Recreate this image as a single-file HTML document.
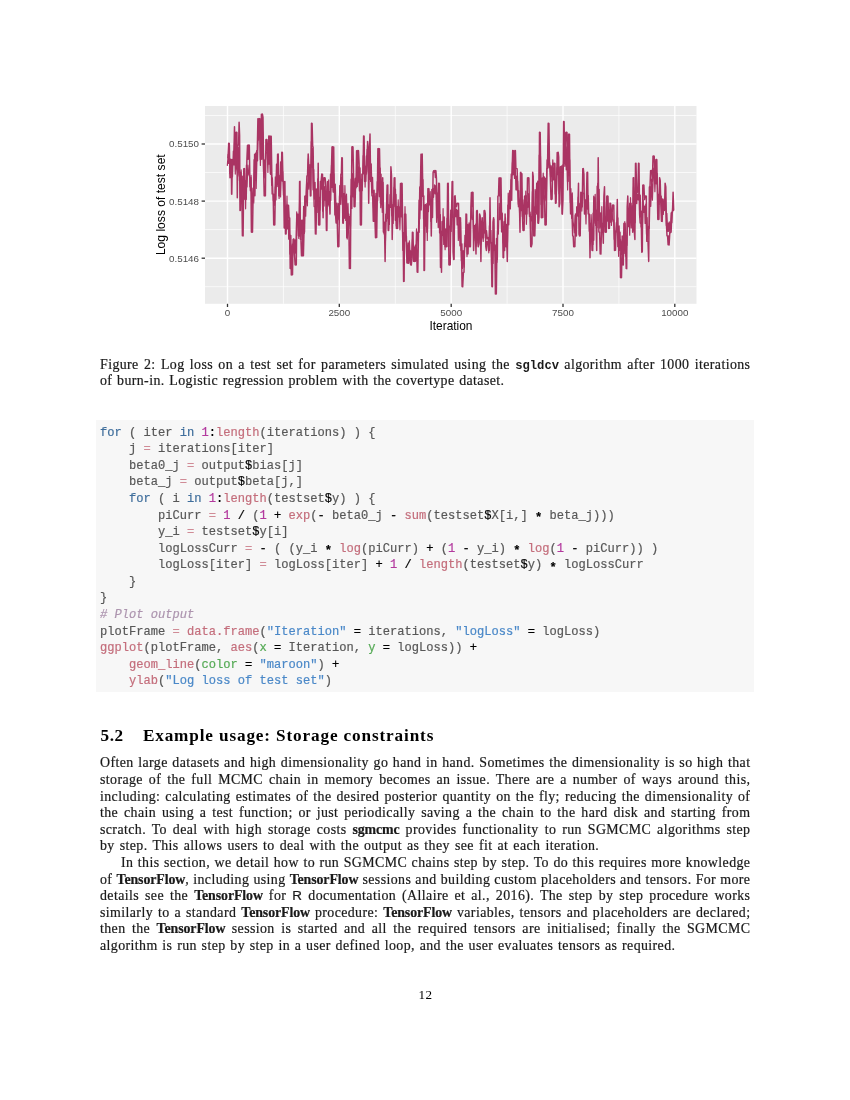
<!DOCTYPE html>
<html><head><meta charset="utf-8"><style>
html,body{margin:0;padding:0;background:#fff}
#page{position:relative;width:850px;height:1100px;overflow:hidden;background:#fff;filter:blur(0.35px)}

.ln{position:absolute;white-space:pre;font-family:'Liberation Serif',serif;font-size:13.9px;line-height:16.6px;letter-spacing:0.4px;color:#1a1a1a;-webkit-text-stroke:0.2px #1a1a1a}
.ln b{font-weight:bold;letter-spacing:-0.1px}
.ln .tt{font-family:'Liberation Mono',monospace;font-weight:bold;font-size:12.2px;letter-spacing:0px;line-height:1;-webkit-text-stroke:0}
.ln .sf{font-family:'Liberation Sans',sans-serif;font-size:13.4px;line-height:1}

.codebox{position:absolute;left:96px;top:420.4px;width:658px;height:271.2px;background:#F7F7F7}
pre.code{position:absolute;left:100px;top:424.69px;margin:0;font-family:'Liberation Mono',monospace;font-size:12.08px;line-height:16.58px;color:#585858;-webkit-text-stroke:0.2px}
.hd{position:absolute;white-space:pre;font-family:'Liberation Serif',serif;font-weight:bold;font-size:17.2px;line-height:20px}
.pn{position:absolute;white-space:pre;font-family:'Liberation Serif',serif;font-size:13.9px;line-height:16.6px}
</style></head><body><div id="page">
<svg width="850" height="340" style="position:absolute;left:0;top:0">
<rect x="205" y="106" width="491.5" height="197.8" fill="#EBEBEB"/>
<line x1="205" x2="696.5" y1="115.5" y2="115.5" stroke="#fff" stroke-width="0.7"/>
<line x1="205" x2="696.5" y1="172.5" y2="172.5" stroke="#fff" stroke-width="0.7"/>
<line x1="205" x2="696.5" y1="229.6" y2="229.6" stroke="#fff" stroke-width="0.7"/>
<line x1="205" x2="696.5" y1="286.7" y2="286.7" stroke="#fff" stroke-width="0.7"/>
<line x1="283.4" x2="283.4" y1="106" y2="303.8" stroke="#fff" stroke-width="0.7"/>
<line x1="395.3" x2="395.3" y1="106" y2="303.8" stroke="#fff" stroke-width="0.7"/>
<line x1="507.1" x2="507.1" y1="106" y2="303.8" stroke="#fff" stroke-width="0.7"/>
<line x1="618.9" x2="618.9" y1="106" y2="303.8" stroke="#fff" stroke-width="0.7"/>
<line x1="205" x2="696.5" y1="144.0" y2="144.0" stroke="#fff" stroke-width="1.4"/>
<line x1="205" x2="696.5" y1="201.1" y2="201.1" stroke="#fff" stroke-width="1.4"/>
<line x1="205" x2="696.5" y1="258.2" y2="258.2" stroke="#fff" stroke-width="1.4"/>
<line x1="227.5" x2="227.5" y1="106" y2="303.8" stroke="#fff" stroke-width="1.4"/>
<line x1="339.3" x2="339.3" y1="106" y2="303.8" stroke="#fff" stroke-width="1.4"/>
<line x1="451.2" x2="451.2" y1="106" y2="303.8" stroke="#fff" stroke-width="1.4"/>
<line x1="563.0" x2="563.0" y1="106" y2="303.8" stroke="#fff" stroke-width="1.4"/>
<line x1="674.8" x2="674.8" y1="106" y2="303.8" stroke="#fff" stroke-width="1.4"/>
<polyline points="227.3,165.9 228.2,154.4 228.7,163.5 229.4,158.1 229.9,173.6 230.6,159.0 231.3,163.6 231.8,165.9 232.5,176.9 233.3,151.0 233.8,165.0 234.5,142.4 235.3,174.1 235.9,142.5 236.6,168.8 237.4,171.6 237.9,175.9 238.7,147.3 239.4,180.6 239.9,182.3 240.6,203.5 241.1,169.8 241.7,188.3 242.3,176.0 243.1,210.9 243.8,188.5 244.4,198.2 245.1,180.5 245.6,208.8 246.4,165.1 247.0,187.0 247.9,165.0 248.8,174.6 249.7,177.1 250.3,190.8 251.1,175.4 252.0,213.1 252.9,188.1 253.8,202.9 254.5,154.1 255.1,180.5 255.6,153.0 256.2,188.4 257.1,152.4 257.6,160.8 258.2,133.6 259.0,135.6 259.7,128.8 260.4,165.4 261.2,133.1 262.1,151.2 262.8,132.1 263.6,173.9 264.2,159.9 264.8,177.9 265.6,151.6 266.4,152.8 267.2,152.8 267.9,172.4 268.5,149.1 269.0,164.2 269.7,155.5 270.4,174.1 271.1,155.5 271.6,185.3 272.4,177.9 273.3,200.7 274.1,194.4 274.7,205.4 275.3,176.9 276.0,199.9 276.7,172.6 277.4,184.5 278.3,168.3 279.1,198.5 279.8,175.4 280.6,196.9 281.2,170.5 281.8,181.0 282.7,171.6 283.4,195.0 284.2,185.2 284.9,213.0 285.5,208.2 286.1,230.2 287.0,196.1 287.5,228.9 288.0,206.1 288.7,239.2 289.3,220.4 289.9,254.1 290.7,245.4 291.5,259.6 292.1,244.0 293.0,247.1 293.8,238.7 294.5,255.4 295.1,239.8 295.8,253.1 296.7,211.9 297.3,223.1 298.0,217.1 298.8,238.4 299.6,201.8 300.4,231.5 301.2,220.0 301.8,239.5 302.3,220.0 302.9,238.3 303.6,206.4 304.3,233.5 304.9,196.3 305.7,216.2 306.6,182.6 307.4,205.8 308.3,158.9 309.0,189.2 309.8,164.6 310.5,188.4 311.3,141.6 311.8,167.1 312.4,148.4 313.0,189.8 313.8,169.6 314.4,199.1 315.1,182.3 315.7,209.7 316.4,188.8 317.2,212.4 317.8,178.8 318.7,212.7 319.5,197.3 320.0,210.0 320.6,181.5 321.2,189.2 321.8,176.8 322.6,211.2 323.4,200.6 324.0,206.1 324.5,186.5 325.2,200.1 325.7,190.9 326.4,211.1 327.2,205.5 327.9,204.4 328.7,179.9 329.2,206.4 330.1,191.4 330.8,200.6 331.5,165.2 332.1,187.4 332.6,163.6 333.3,190.3 333.9,173.8 334.8,215.0 335.3,184.1 336.2,214.0 337.0,203.1 337.6,224.8 338.4,203.7 339.1,219.8 339.7,185.5 340.6,204.3 341.5,177.3 342.3,204.8 342.8,185.3 343.4,216.8 343.9,193.6 344.4,218.3 344.9,185.5 345.7,220.4 346.5,194.1 347.2,239.1 348.0,203.5 348.8,228.5 349.6,216.3 350.5,226.6 351.1,179.2 351.9,208.5 352.4,173.6 353.3,197.1 353.8,178.6 354.7,193.6 355.4,178.1 356.2,187.8 356.9,165.8 357.8,182.6 358.6,166.9 359.4,191.1 360.1,167.9 361.0,205.4 361.7,179.3 362.3,190.6 363.2,155.5 363.7,168.1 364.4,155.5 365.1,187.1 365.8,166.1 366.3,174.1 367.2,149.3 368.0,171.1 368.7,175.1 369.5,179.4 370.0,153.3 370.6,181.4 371.3,163.9 372.0,192.8 372.6,177.3 373.5,208.1 374.2,190.2 375.0,218.1 375.9,193.3 376.4,218.1 377.2,181.5 377.7,201.0 378.5,168.2 379.4,196.7 380.2,168.2 380.7,207.7 381.4,188.5 382.3,212.4 383.1,182.4 384.0,234.0 384.7,222.2 385.4,243.0 386.0,220.3 386.6,221.2 387.1,194.4 387.8,218.5 388.6,204.7 389.4,224.5 390.0,194.5 390.6,207.5 391.2,182.8 391.8,215.8 392.6,204.9 393.2,223.5 394.1,187.4 395.0,206.7 395.5,189.0 396.3,225.9 397.0,206.7 397.7,217.4 398.2,199.9 398.8,216.9 399.4,214.4 399.9,229.8 400.6,204.8 401.3,216.8 402.0,208.3 402.8,250.3 403.4,235.9 404.2,259.8 405.0,206.7 405.8,241.1 406.5,236.0 407.3,262.6 408.1,242.9 408.9,253.8 409.4,240.8 410.2,256.9 411.0,251.2 411.6,257.8 412.4,239.5 412.9,253.7 413.6,249.3 414.5,261.4 415.3,245.2 415.9,250.0 416.5,228.9 417.1,246.3 417.7,232.2 418.3,240.3 419.0,200.0 419.9,218.8 420.7,187.2 421.3,209.9 421.9,180.1 422.4,196.4 423.0,179.7 423.5,218.9 424.1,219.7 424.6,240.7 425.4,204.3 426.1,226.2 426.8,203.5 427.3,240.5 427.9,195.1 428.5,211.6 429.0,194.5 429.6,204.9 430.2,191.6 430.9,221.5 431.6,202.7 432.1,209.0 432.9,188.4 433.6,197.3 434.4,184.9 435.1,193.8 435.8,185.4 436.6,222.3 437.3,192.9 438.2,227.6 439.0,193.8 439.5,233.0 440.4,214.7 441.0,251.5 441.7,236.1 442.6,235.3 443.1,208.6 443.7,244.4 444.3,216.9 445.1,249.7 445.7,228.8 446.4,242.5 447.1,218.1 447.6,225.5 448.1,199.8 448.8,226.9 449.6,226.1 450.1,246.6 450.7,210.1 451.2,231.5 452.1,200.9 452.6,211.5 453.5,222.1 454.1,246.6 454.9,198.6 455.7,216.7 456.5,209.2 457.1,225.0 457.7,210.2 458.3,240.4 459.2,224.5 459.9,245.8 460.5,222.0 461.3,260.8 462.0,243.8 462.5,268.4 463.3,250.7 464.1,267.1 464.9,235.3 465.8,246.6 466.5,230.1 467.0,256.6 467.6,224.3 468.4,238.4 469.0,222.9 469.8,240.5 470.4,220.5 471.1,218.9 471.8,205.9 472.5,219.5 473.1,217.8 473.8,240.5 474.4,225.4 475.0,234.7 475.7,224.1 476.2,246.2 476.9,215.4 477.6,237.0 478.2,233.5 478.8,242.8 479.6,221.7 480.5,245.0 481.0,243.7 481.8,237.5 482.6,226.1 483.2,241.4 483.7,229.8 484.6,233.2 485.2,213.9 486.0,238.9 486.6,230.7 487.4,238.9 488.2,237.5 488.8,252.8 489.4,225.7 490.2,230.3 490.9,230.3 491.6,265.8 492.2,242.4 493.1,263.4 493.9,219.1 494.4,250.7 495.0,244.9 495.8,268.5 496.4,238.4 497.0,262.3 497.5,231.2 498.4,234.1 499.2,203.3 499.9,219.7 500.8,203.0 501.5,231.9 502.3,213.2 503.1,243.0 503.9,226.7 504.7,236.2 505.5,217.7 506.4,247.0 506.9,224.3 507.5,242.2 508.2,193.2 508.8,224.8 509.6,190.5 510.4,209.0 511.0,179.5 511.8,200.4 512.4,162.5 513.1,174.8 513.7,162.8 514.5,178.5 515.2,162.9 515.9,189.8 516.6,176.2 517.1,190.6 517.7,181.1 518.3,204.2 518.9,190.7 519.6,213.7 520.2,202.3 521.0,191.3 521.5,188.2 522.3,216.5 523.0,199.9 523.8,219.1 524.6,201.1 525.2,209.3 525.8,191.1 526.4,224.3 527.1,202.2 527.9,207.3 528.6,193.7 529.4,216.5 530.1,212.1 530.6,228.8 531.1,216.9 531.7,220.8 532.4,191.5 533.0,207.5 533.6,206.4 534.5,230.4 535.1,189.5 535.8,213.1 536.6,183.0 537.2,198.0 537.7,181.0 538.6,213.1 539.2,155.1 539.8,178.5 540.5,156.3 541.1,204.5 541.7,186.0 542.3,204.6 543.2,173.0 543.9,188.0 544.4,176.9 544.9,200.9 545.6,178.2 546.3,200.1 547.0,159.8 547.6,167.4 548.1,145.6 549.0,167.7 549.7,162.7 550.5,176.7 551.2,165.8 551.9,181.3 552.8,159.8 553.6,180.0 554.5,165.4 555.1,194.0 555.8,180.1 556.5,191.2 557.1,167.6 557.6,174.0 558.5,169.7 559.1,193.7 559.9,167.7 560.6,180.9 561.4,165.9 562.0,193.7 562.7,165.4 563.5,164.0 564.1,141.8 564.8,166.3 565.4,141.8 566.2,169.8 566.9,146.9 567.6,190.0 568.3,156.6 569.2,175.6 569.7,159.8 570.3,202.4 570.9,188.6 571.6,218.3 572.3,192.9 573.1,221.2 573.7,226.4 574.3,232.8 575.2,215.4 576.0,225.3 576.8,207.3 577.7,216.2 578.2,197.2 578.9,216.9 579.8,203.4 580.3,212.2 581.1,192.5 581.8,211.1 582.5,192.1 583.4,193.3 584.0,193.9 584.6,204.1 585.4,205.5 586.0,223.9 586.8,192.2 587.6,209.1 588.4,195.7 589.2,231.2 589.8,225.4 590.4,238.9 591.1,214.6 591.7,227.2 592.2,230.1 593.0,244.5 593.7,196.2 594.4,210.6 595.2,194.4 595.7,225.5 596.5,210.2 597.1,227.7 597.7,183.4 598.5,198.2 599.2,189.4 599.8,228.1 600.6,212.9 601.3,232.9 601.8,206.5 602.4,230.2 603.3,223.0 603.9,224.1 604.5,201.6 605.3,222.9 605.8,216.8 606.4,224.6 607.0,202.1 607.7,221.2 608.3,210.1 608.9,222.3 609.5,210.1 610.3,222.1 610.8,207.9 611.4,225.5 612.1,213.7 612.9,220.0 613.7,220.2 614.2,239.3 615.0,231.1 615.5,235.6 616.3,222.5 617.1,225.1 617.9,217.8 618.6,256.3 619.2,225.9 619.9,250.5 620.7,239.7 621.6,254.6 622.1,241.0 622.9,259.3 623.6,235.9 624.1,253.5 624.8,221.5 625.5,256.2 626.2,235.4 627.0,245.4 627.8,211.9 628.5,226.6 629.2,220.0 629.7,235.2 630.5,197.7 631.3,228.0 632.2,205.9 632.8,222.7 633.5,186.7 634.1,215.4 634.6,199.4 635.2,222.7 636.1,180.0 636.8,203.6 637.4,193.9 638.3,200.0 639.1,187.9 639.7,217.0 640.3,195.0 641.1,227.0 641.8,211.1 642.5,224.2 643.2,199.8 643.9,212.4 644.6,206.0 645.1,223.5 645.8,204.1 646.5,234.6 647.1,217.6 647.8,241.4 648.6,226.3 649.3,228.5 650.2,186.7 650.8,206.3 651.6,179.1 652.4,200.2 653.2,179.1 653.7,168.0 654.3,173.8 654.9,191.7 655.7,170.6 656.4,183.9 657.2,173.5 658.0,207.0 658.5,194.4 659.1,204.4 659.9,182.8 660.5,201.6 661.3,196.2 661.9,213.2 662.6,198.8 663.3,214.5 664.0,199.0 664.8,209.4 665.5,196.8 666.3,225.5 666.9,213.4 667.6,231.4 668.2,223.2 668.8,231.4 669.3,221.9 670.2,232.9 671.1,212.8 671.9,222.7 672.8,203.9 673.3,210.1" fill="none" stroke="#AA3463" stroke-width="1.2" stroke-linejoin="round"/>
<polyline points="227.3,157.7 228.0,157.5 228.7,143.2 229.3,143.4 230.0,177.7 230.7,159.7 231.3,159.5 231.6,193.9 231.8,194.1 232.4,159.7 233.1,159.5 233.8,159.3 234.5,126.8 235.0,164.8 235.5,165.0 235.9,132.5 236.4,132.3 236.9,132.5 237.3,197.7 237.8,145.2 238.2,145.0 238.6,144.8 239.1,122.3 239.6,135.6 240.0,210.5 240.4,210.3 240.9,172.3 241.4,186.6 241.8,186.8 242.4,235.7 243.1,235.9 243.8,168.8 244.5,168.6 245.0,199.3 245.5,199.5 246.2,199.3 246.9,159.5 247.5,145.2 248.1,159.3 248.7,145.0 249.3,145.2 250.0,186.8 250.4,186.6 250.9,177.7 251.4,232.1 252.0,232.3 252.5,232.1 253.1,196.1 253.6,195.9 254.2,159.7 254.9,195.7 255.5,159.5 256.1,159.3 256.7,150.7 257.3,150.5 257.9,118.8 258.5,140.1 259.1,118.6 259.8,118.8 260.4,159.5 260.9,159.0 261.4,114.3 261.9,159.3 262.4,114.1 263.0,117.5 263.6,168.6 264.2,195.7 264.9,195.9 265.4,195.7 265.9,139.7 266.4,139.5 267.0,139.7 267.6,159.5 268.2,159.3 268.8,136.1 269.4,159.3 270.0,135.9 270.6,173.9 271.2,136.3 271.8,174.1 272.2,193.9 272.7,194.1 273.2,194.3 273.7,224.8 274.2,225.0 274.8,224.8 275.4,187.0 276.0,186.8 276.6,164.3 277.1,186.6 277.6,154.3 278.2,154.1 278.9,195.7 279.6,195.9 280.2,195.7 280.7,162.1 281.2,179.5 281.8,152.3 282.4,152.5 283.0,181.2 283.6,181.4 284.2,227.9 284.9,181.6 285.5,234.1 286.1,233.9 286.7,205.2 287.3,205.0 287.9,217.5 288.5,205.2 289.1,217.7 289.7,217.9 290.2,268.5 290.8,235.5 291.3,275.0 291.9,247.3 292.5,274.8 293.1,239.5 293.8,239.7 294.5,254.1 295.1,264.8 295.8,265.0 296.3,264.8 296.8,214.3 297.3,214.1 297.9,214.3 298.5,235.7 299.1,235.9 299.6,181.6 300.0,181.4 300.4,239.3 300.9,239.5 301.5,255.7 302.2,255.9 302.8,232.5 303.4,255.7 304.0,232.3 304.5,232.1 305.0,196.1 305.5,195.9 306.2,195.7 306.9,175.9 307.5,175.7 308.2,154.1 308.9,168.4 309.5,168.6 309.9,168.8 310.4,195.9 310.9,195.7 311.5,123.2 312.1,123.4 312.7,146.8 313.1,147.0 313.6,183.2 314.2,206.6 314.9,206.8 315.4,233.9 316.0,234.1 316.6,201.6 317.3,201.4 317.8,201.2 318.2,163.2 318.6,224.8 319.1,225.0 319.8,224.8 320.4,181.4 321.1,181.2 321.8,174.1 322.5,174.3 323.1,217.7 323.8,177.9 324.5,177.7 325.1,177.9 325.8,186.8 326.4,230.3 326.9,230.5 327.5,181.6 328.2,181.4 328.6,204.8 329.1,205.0 329.6,205.2 330.0,214.1 330.6,174.3 331.3,174.1 332.0,147.0 332.7,146.8 333.2,192.1 333.7,147.0 334.2,192.3 334.9,192.5 335.5,214.1 336.1,223.0 336.7,214.3 337.3,223.2 337.8,246.6 338.2,246.8 338.9,246.6 339.6,195.9 340.2,195.7 340.9,174.1 341.4,173.9 341.8,157.7 342.3,157.9 342.8,223.0 343.3,223.2 343.9,205.2 344.5,205.0 345.1,204.8 345.8,195.9 346.3,196.1 346.8,237.5 347.3,237.7 348.0,214.3 348.7,214.1 349.4,268.4 350.0,268.6 350.4,268.4 350.9,195.9 351.4,195.7 351.9,147.0 352.4,146.8 353.0,147.0 353.6,177.7 354.1,206.6 354.5,206.8 355.0,206.6 355.5,187.0 356.0,186.8 356.6,150.7 357.2,186.6 357.8,150.5 358.5,150.7 359.1,163.2 359.6,184.8 360.0,185.0 360.4,224.8 360.9,225.0 361.4,224.8 361.9,174.3 362.4,174.1 363.0,173.9 363.6,135.9 364.1,136.1 364.6,181.2 365.1,181.4 365.8,181.2 366.5,155.9 367.1,155.7 367.6,141.4 368.1,147.6 368.7,203.2 369.4,150.9 370.0,134.1 370.6,177.5 371.3,177.7 372.0,195.7 372.7,195.9 373.3,221.2 373.9,199.1 374.5,221.4 375.0,221.6 375.5,237.7 376.1,196.1 376.7,237.5 377.3,195.9 377.9,148.8 378.5,148.6 379.0,173.9 379.5,148.8 380.0,174.1 380.5,203.0 381.0,174.3 381.5,203.2 382.1,203.0 382.7,177.7 383.4,232.1 384.0,232.3 384.6,232.5 385.1,261.4 385.8,214.3 386.4,214.1 387.1,185.2 387.8,185.0 388.2,230.3 388.7,230.5 389.4,207.0 390.0,206.8 390.4,206.6 390.9,166.8 391.5,175.4 392.2,239.5 392.9,205.2 393.6,205.0 394.2,177.9 394.9,177.7 395.4,220.2 395.9,194.4 396.4,228.6 397.0,207.0 397.6,228.4 398.2,206.8 398.8,207.0 399.4,213.9 400.0,214.1 400.5,183.4 401.0,213.9 401.5,183.2 402.1,183.4 402.7,232.3 403.1,232.5 403.6,281.4 404.1,281.2 404.6,214.3 405.1,214.1 405.8,214.3 406.4,246.8 407.0,263.0 407.6,247.0 408.2,263.2 408.8,263.0 409.4,250.7 410.0,250.5 410.6,264.8 411.3,265.0 411.9,258.5 412.4,232.3 413.0,232.5 413.6,261.2 414.2,261.4 414.8,247.0 415.4,261.2 416.0,246.8 416.6,247.0 417.2,272.1 417.8,272.3 418.5,232.5 419.1,232.3 419.8,187.0 420.4,186.8 421.0,154.3 421.6,186.6 422.2,154.1 422.9,195.7 423.6,195.9 423.8,196.1 424.0,270.5 424.5,270.3 425.0,205.2 425.5,205.0 426.2,205.2 426.9,232.3 427.4,232.1 427.9,188.8 428.4,188.6 428.9,188.8 429.5,199.3 430.0,199.5 430.6,199.7 431.3,235.9 431.9,189.4 432.5,217.4 433.1,172.3 433.7,170.7 434.3,172.1 434.9,170.5 435.4,177.5 435.9,170.7 436.4,177.7 437.1,204.8 437.8,205.0 438.2,204.8 438.7,183.2 439.4,183.4 440.0,223.2 440.5,267.4 441.0,231.5 441.5,272.3 442.1,221.6 442.7,221.4 443.3,232.1 443.9,221.6 444.5,232.3 445.1,246.6 445.8,232.5 446.4,246.8 447.0,246.6 447.6,183.4 448.2,183.2 448.9,264.8 449.5,265.0 450.2,264.8 450.9,217.7 451.5,217.5 452.1,181.6 452.7,181.4 453.1,252.3 453.6,259.5 454.1,259.3 454.6,196.4 455.1,195.9 455.8,206.6 456.4,206.8 457.1,203.4 457.8,203.2 458.5,203.4 459.1,235.9 459.6,217.9 460.0,217.7 460.5,217.9 461.0,250.3 461.5,250.5 462.1,286.6 462.7,286.8 463.4,272.5 464.0,272.3 464.6,243.4 465.1,243.2 465.6,243.0 466.0,214.1 466.6,214.3 467.3,254.1 468.0,253.9 468.7,225.0 469.4,246.6 470.0,246.8 470.4,246.6 470.9,206.8 471.4,192.5 471.9,206.6 472.4,192.3 473.0,192.5 473.6,250.5 474.2,232.5 474.9,232.3 475.4,232.5 476.0,254.1 476.6,210.9 477.3,210.5 477.8,242.6 478.2,246.8 478.9,243.8 479.6,214.1 480.2,215.9 480.9,261.4 481.5,224.2 482.2,217.7 482.9,237.5 483.6,237.7 484.1,210.7 484.7,210.5 485.3,214.0 485.8,246.6 486.4,250.5 487.0,241.6 487.6,241.4 488.1,241.6 488.7,250.5 489.4,250.3 490.0,197.7 490.6,243.0 491.3,243.2 491.9,286.6 492.4,286.8 493.0,222.0 493.6,217.7 494.2,250.3 494.9,250.5 495.4,293.9 495.8,294.1 496.3,293.9 496.8,259.7 497.3,259.5 497.9,196.1 498.5,195.9 499.0,177.9 499.5,195.7 500.0,177.7 500.5,213.9 501.0,177.9 501.5,214.1 502.1,214.3 502.7,232.3 503.1,257.5 503.6,257.7 504.1,221.8 504.6,250.6 505.1,214.1 505.8,246.6 506.4,246.8 506.9,247.0 507.3,261.4 508.0,205.2 508.7,205.0 509.2,204.8 509.7,196.1 510.2,195.9 510.8,195.7 511.3,174.1 512.0,173.9 512.7,150.5 513.4,150.7 514.0,174.1 514.5,173.9 514.9,150.5 515.4,150.7 515.9,168.4 516.4,168.6 517.1,168.8 517.8,190.5 518.5,206.6 519.1,206.8 519.5,207.0 520.0,232.3 520.5,172.5 520.9,172.3 521.4,210.4 521.9,173.7 522.4,214.1 523.0,230.3 523.6,230.5 524.1,230.3 524.6,196.1 525.1,195.9 525.7,213.9 526.3,196.1 526.9,214.1 527.5,177.9 528.2,177.7 528.9,177.9 529.5,214.1 530.1,214.3 530.7,246.6 531.3,246.8 532.0,243.8 532.7,172.3 533.2,176.4 533.7,235.7 534.2,235.9 534.8,235.7 535.4,214.3 536.0,214.1 536.6,213.9 537.3,183.2 537.9,223.0 538.5,223.2 539.0,217.2 539.5,132.3 540.2,132.5 540.9,186.8 541.3,217.5 541.8,217.7 542.3,177.9 542.8,217.5 543.3,177.7 543.9,195.7 544.5,195.9 545.0,224.8 545.5,225.0 546.2,224.8 546.9,168.6 547.5,168.4 548.2,123.2 548.9,123.4 549.5,165.0 550.0,165.2 550.5,183.2 551.0,199.3 551.5,199.5 552.1,198.9 552.7,165.0 553.2,163.4 553.7,164.8 554.2,163.2 554.9,163.4 555.5,203.2 556.1,203.0 556.7,177.7 557.2,152.5 557.7,174.5 558.2,152.3 558.7,157.2 559.1,206.8 559.8,203.4 560.4,166.8 561.0,167.0 561.5,183.2 562.0,213.9 562.4,214.1 563.0,199.4 563.6,121.4 564.1,121.6 564.6,159.3 565.1,159.5 565.8,132.5 566.4,132.3 567.0,132.5 567.6,181.4 568.1,181.2 568.6,134.3 569.1,134.1 569.5,134.3 570.0,188.6 570.6,213.9 571.3,214.1 572.0,214.3 572.7,235.9 573.2,236.1 573.7,246.6 574.2,246.8 574.9,246.6 575.5,214.1 576.0,214.3 576.4,235.9 576.8,207.0 577.3,206.8 577.9,206.6 578.5,183.2 579.0,234.2 579.6,235.9 580.2,235.7 580.9,192.3 581.5,206.6 582.2,206.8 582.8,168.8 583.3,168.6 583.9,174.0 584.5,214.1 585.1,213.9 585.8,199.7 586.4,199.5 587.0,172.5 587.6,172.3 588.2,213.9 588.7,214.1 589.4,214.3 590.0,257.7 590.6,223.4 591.3,223.2 592.0,250.3 592.7,250.5 593.2,213.2 593.7,240.2 594.2,197.7 594.9,197.9 595.5,223.2 596.1,223.4 596.7,250.5 597.2,186.2 597.7,220.3 598.2,157.7 598.9,232.1 599.6,232.3 600.2,253.9 600.9,254.1 601.5,228.8 602.2,228.6 602.8,228.8 603.3,243.2 603.9,196.4 604.5,186.8 605.1,232.1 605.8,232.3 606.3,232.1 606.8,196.1 607.3,195.9 608.0,196.4 608.7,228.6 609.4,228.4 610.0,203.2 610.6,203.4 611.2,221.2 611.8,221.4 612.5,205.2 613.1,205.0 613.8,205.2 614.5,250.5 615.0,232.5 615.5,250.3 616.0,232.3 616.6,232.1 617.3,199.5 617.9,246.6 618.5,246.8 619.0,232.5 619.5,246.6 620.0,232.3 620.5,277.5 620.9,277.7 621.5,277.5 622.2,235.9 622.8,264.8 623.3,265.0 623.9,223.4 624.5,223.2 625.1,223.4 625.8,250.5 626.2,268.4 626.7,268.6 627.2,206.9 627.8,195.9 628.5,223.0 629.1,223.2 629.8,203.4 630.4,203.2 631.0,203.4 631.5,214.1 632.1,214.3 632.7,232.3 633.2,177.9 633.6,177.7 634.2,229.9 634.9,239.5 635.5,163.4 636.0,163.2 636.6,192.1 637.3,192.3 637.9,192.1 638.5,163.2 639.0,163.4 639.6,214.1 640.2,223.0 640.9,223.2 641.3,223.4 641.8,252.3 642.3,251.3 642.8,185.2 643.3,185.0 643.9,185.2 644.5,199.5 645.1,196.1 645.8,195.9 646.3,196.1 646.8,241.2 647.3,241.4 648.0,241.6 648.7,261.4 649.4,187.0 650.0,186.8 650.6,170.7 651.3,170.5 651.8,170.7 652.4,181.4 653.0,156.1 653.6,155.9 654.2,156.1 654.9,179.5 655.4,179.3 655.9,159.7 656.4,159.5 656.8,159.7 657.3,188.6 657.8,219.3 658.2,219.5 658.9,219.3 659.6,177.7 660.2,180.4 660.9,206.8 661.5,221.2 662.2,221.4 662.8,201.6 663.3,201.4 663.6,210.3 664.0,210.5 664.5,210.3 665.1,183.2 665.8,187.0 666.4,223.2 667.0,235.7 667.6,235.9 668.1,244.8 668.6,236.1 669.1,245.0 669.8,232.5 670.5,232.3 671.1,232.1 671.8,212.3 672.5,212.1 673.1,192.3 673.7,210.3 674.2,210.5" fill="none" stroke="#AA3463" stroke-width="1.5" stroke-linejoin="round"/>
<line x1="201.6" x2="205" y1="144.0" y2="144.0" stroke="#333" stroke-width="1.3"/>
<line x1="201.6" x2="205" y1="201.1" y2="201.1" stroke="#333" stroke-width="1.3"/>
<line x1="201.6" x2="205" y1="258.2" y2="258.2" stroke="#333" stroke-width="1.3"/>
<line x1="227.5" x2="227.5" y1="303.8" y2="307" stroke="#333" stroke-width="1.3"/>
<line x1="339.3" x2="339.3" y1="303.8" y2="307" stroke="#333" stroke-width="1.3"/>
<line x1="451.2" x2="451.2" y1="303.8" y2="307" stroke="#333" stroke-width="1.3"/>
<line x1="563.0" x2="563.0" y1="303.8" y2="307" stroke="#333" stroke-width="1.3"/>
<line x1="674.8" x2="674.8" y1="303.8" y2="307" stroke="#333" stroke-width="1.3"/>
<text x="199" y="147.4" text-anchor="end" font-family="Liberation Sans" font-size="9.8" fill="#4D4D4D">0.5150</text>
<text x="199" y="204.5" text-anchor="end" font-family="Liberation Sans" font-size="9.8" fill="#4D4D4D">0.5148</text>
<text x="199" y="261.59999999999997" text-anchor="end" font-family="Liberation Sans" font-size="9.8" fill="#4D4D4D">0.5146</text>
<text x="227.5" y="316.2" text-anchor="middle" font-family="Liberation Sans" font-size="9.8" fill="#4D4D4D">0</text>
<text x="339.3" y="316.2" text-anchor="middle" font-family="Liberation Sans" font-size="9.8" fill="#4D4D4D">2500</text>
<text x="451.2" y="316.2" text-anchor="middle" font-family="Liberation Sans" font-size="9.8" fill="#4D4D4D">5000</text>
<text x="563.0" y="316.2" text-anchor="middle" font-family="Liberation Sans" font-size="9.8" fill="#4D4D4D">7500</text>
<text x="674.8" y="316.2" text-anchor="middle" font-family="Liberation Sans" font-size="9.8" fill="#4D4D4D">10000</text>
<text x="451" y="329.6" text-anchor="middle" font-family="Liberation Sans" font-size="11.9" fill="#000">Iteration</text>
<text transform="translate(165.2,204.7) rotate(-90)" x="0" y="0" text-anchor="middle" font-family="Liberation Sans" font-size="12.1" fill="#000">Log loss of test set</text>
</svg>
<div class="ln" style="left:100px;top:356.80px;word-spacing:1.441px">Figure 2: Log loss on a test set for parameters simulated using the <span class="tt">sgldcv</span> algorithm after 1000 iterations</div>
<div class="ln" style="left:100px;top:373.10px;word-spacing:0.814px">of burn-in. Logistic regression problem with the covertype dataset.</div>
<div class="ln" style="left:100px;top:755.40px;word-spacing:0.714px">Often large datasets and high dimensionality go hand in hand. Sometimes the dimensionality is so high that</div>
<div class="ln" style="left:100px;top:772.00px;word-spacing:2.080px">storage of the full MCMC chain in memory becomes an issue. There are a number of ways around this,</div>
<div class="ln" style="left:100px;top:788.60px;word-spacing:1.130px">including: calculating estimates of the desired posterior quantity on the fly; reducing the dimensionality of</div>
<div class="ln" style="left:100px;top:805.20px;word-spacing:1.950px">the chain using a test function; or just periodically saving a the chain to the hard disk and starting from</div>
<div class="ln" style="left:100px;top:821.80px;word-spacing:2.042px">scratch. To deal with high storage costs <b>sgmcmc</b> provides functionality to run SGMCMC algorithms step</div>
<div class="ln" style="left:100px;top:838.40px;word-spacing:1.172px">by step. This allows users to deal with the output as they see fit at each iteration.</div>
<div class="ln" style="left:121px;top:855.00px;word-spacing:0.619px">In this section, we detail how to run SGMCMC chains step by step. To do this requires more knowledge</div>
<div class="ln" style="left:100px;top:871.60px;word-spacing:0.250px">of <b>TensorFlow</b>, including using <b>TensorFlow</b> sessions and building custom placeholders and tensors. For more</div>
<div class="ln" style="left:100px;top:888.20px;word-spacing:2.123px">details see the <b>TensorFlow</b> for <span class="sf">R</span> documentation (Allaire et al., 2016). The step by step procedure works</div>
<div class="ln" style="left:100px;top:904.80px;word-spacing:1.084px">similarly to a standard <b>TensorFlow</b> procedure: <b>TensorFlow</b> variables, tensors and placeholders are declared;</div>
<div class="ln" style="left:100px;top:921.40px;word-spacing:2.581px">then the <b>TensorFlow</b> session is started and all the required tensors are initialised; finally the SGMCMC</div>
<div class="ln" style="left:100px;top:938.00px;word-spacing:0.864px">algorithm is run step by step in a user defined loop, and the user evaluates tensors as required.</div>
<div class="codebox"></div>
<pre class="code"><span style="color:#3F6E9C">for</span> <span style="color:#585858">(</span> <span style="color:#585858">iter</span> <span style="color:#3F6E9C">in</span> <span style="color:#B3399E">1</span><span style="color:#000000">:</span><span style="color:#C46E7C">length</span><span style="color:#585858">(</span><span style="color:#585858">iterations</span><span style="color:#585858">)</span> <span style="color:#585858">)</span> <span style="color:#585858">{</span>
    <span style="color:#585858">j</span> <span style="color:#D08C97">=</span> <span style="color:#585858">iterations</span><span style="color:#585858">[</span><span style="color:#585858">iter</span><span style="color:#585858">]</span>
    <span style="color:#585858">beta0_j</span> <span style="color:#D08C97">=</span> <span style="color:#585858">output</span><span style="color:#000000">$</span><span style="color:#585858">bias</span><span style="color:#585858">[</span><span style="color:#585858">j</span><span style="color:#585858">]</span>
    <span style="color:#585858">beta_j</span> <span style="color:#D08C97">=</span> <span style="color:#585858">output</span><span style="color:#000000">$</span><span style="color:#585858">beta</span><span style="color:#585858">[</span><span style="color:#585858">j</span><span style="color:#585858">,</span><span style="color:#585858">]</span>
    <span style="color:#3F6E9C">for</span> <span style="color:#585858">(</span> <span style="color:#585858">i</span> <span style="color:#3F6E9C">in</span> <span style="color:#B3399E">1</span><span style="color:#000000">:</span><span style="color:#C46E7C">length</span><span style="color:#585858">(</span><span style="color:#585858">testset</span><span style="color:#000000">$</span><span style="color:#585858">y</span><span style="color:#585858">)</span> <span style="color:#585858">)</span> <span style="color:#585858">{</span>
        <span style="color:#585858">piCurr</span> <span style="color:#D08C97">=</span> <span style="color:#B3399E">1</span> <span style="color:#000000">/</span> <span style="color:#585858">(</span><span style="color:#B3399E">1</span> <span style="color:#000000">+</span> <span style="color:#C46E7C">exp</span><span style="color:#585858">(</span><span style="color:#000000">-</span> <span style="color:#585858">beta0_j</span> <span style="color:#000000">-</span> <span style="color:#C46E7C">sum</span><span style="color:#585858">(</span><span style="color:#585858">testset</span><span style="color:#000000">$</span><span style="color:#585858">X</span><span style="color:#585858">[</span><span style="color:#585858">i</span><span style="color:#585858">,</span><span style="color:#585858">]</span> <span style="color:#000000;position:relative;top:2.5px;font-weight:bold">*</span> <span style="color:#585858">beta_j</span><span style="color:#585858">)))</span>
        <span style="color:#585858">y_i</span> <span style="color:#D08C97">=</span> <span style="color:#585858">testset</span><span style="color:#000000">$</span><span style="color:#585858">y</span><span style="color:#585858">[</span><span style="color:#585858">i</span><span style="color:#585858">]</span>
        <span style="color:#585858">logLossCurr</span> <span style="color:#D08C97">=</span> <span style="color:#000000">-</span> <span style="color:#585858">(</span> <span style="color:#585858">(</span><span style="color:#585858">y_i</span> <span style="color:#000000;position:relative;top:2.5px;font-weight:bold">*</span> <span style="color:#C46E7C">log</span><span style="color:#585858">(</span><span style="color:#585858">piCurr</span><span style="color:#585858">)</span> <span style="color:#000000">+</span> <span style="color:#585858">(</span><span style="color:#B3399E">1</span> <span style="color:#000000">-</span> <span style="color:#585858">y_i</span><span style="color:#585858">)</span> <span style="color:#000000;position:relative;top:2.5px;font-weight:bold">*</span> <span style="color:#C46E7C">log</span><span style="color:#585858">(</span><span style="color:#B3399E">1</span> <span style="color:#000000">-</span> <span style="color:#585858">piCurr</span><span style="color:#585858">))</span> <span style="color:#585858">)</span>
        <span style="color:#585858">logLoss</span><span style="color:#585858">[</span><span style="color:#585858">iter</span><span style="color:#585858">]</span> <span style="color:#D08C97">=</span> <span style="color:#585858">logLoss</span><span style="color:#585858">[</span><span style="color:#585858">iter</span><span style="color:#585858">]</span> <span style="color:#000000">+</span> <span style="color:#B3399E">1</span> <span style="color:#000000">/</span> <span style="color:#C46E7C">length</span><span style="color:#585858">(</span><span style="color:#585858">testset</span><span style="color:#000000">$</span><span style="color:#585858">y</span><span style="color:#585858">)</span> <span style="color:#000000;position:relative;top:2.5px;font-weight:bold">*</span> <span style="color:#585858">logLossCurr</span>
    <span style="color:#585858">}</span>
<span style="color:#585858">}</span>
<span style="color:#AD95AF;font-style:italic"># Plot output</span>
<span style="color:#585858">plotFrame</span> <span style="color:#D08C97">=</span> <span style="color:#C46E7C">data.frame</span><span style="color:#585858">(</span><span style="color:#4A88C8">&quot;Iteration&quot;</span> <span style="color:#000000">=</span> <span style="color:#585858">iterations</span><span style="color:#585858">,</span> <span style="color:#4A88C8">&quot;logLoss&quot;</span> <span style="color:#000000">=</span> <span style="color:#585858">logLoss</span><span style="color:#585858">)</span>
<span style="color:#C46E7C">ggplot</span><span style="color:#585858">(</span><span style="color:#585858">plotFrame</span><span style="color:#585858">,</span> <span style="color:#C46E7C">aes</span><span style="color:#585858">(</span><span style="color:#55AA55">x</span> <span style="color:#000000">=</span> <span style="color:#585858">Iteration</span><span style="color:#585858">,</span> <span style="color:#55AA55">y</span> <span style="color:#000000">=</span> <span style="color:#585858">logLoss</span><span style="color:#585858">))</span> <span style="color:#000000">+</span>
    <span style="color:#C46E7C">geom_line</span><span style="color:#585858">(</span><span style="color:#55AA55">color</span> <span style="color:#000000">=</span> <span style="color:#4A88C8">&quot;maroon&quot;</span><span style="color:#585858">)</span> <span style="color:#000000">+</span>
    <span style="color:#C46E7C">ylab</span><span style="color:#585858">(</span><span style="color:#4A88C8">&quot;Log loss of test set&quot;</span><span style="color:#585858">)</span></pre>
<div class="hd" style="left:100.5px;top:726.00px;letter-spacing:0.55px">5.2</div>
<div class="hd" id="hd2" style="left:142.9px;top:726.00px;letter-spacing:0.86px">Example usage: Storage constraints</div>
<div class="pn" style="left:418.6px;top:987.10px;font-size:13.1px;letter-spacing:0.4px">12</div>
</div></body></html>
